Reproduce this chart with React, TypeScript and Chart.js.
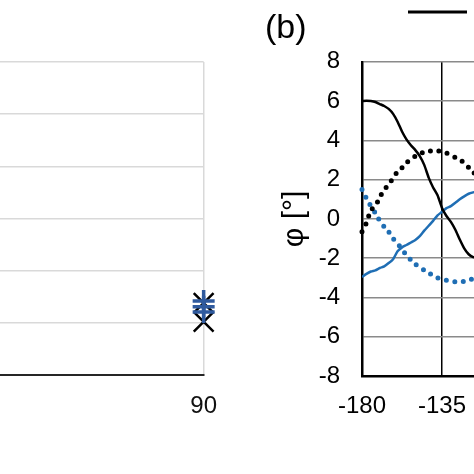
import { useEffect, useRef } from "react";
import { Chart, registerables } from "chart.js";

Chart.register(...registerables);

const FONT = "'Liberation Sans', Arial, sans-serif";

// Panel (a): readings at the 90° end of the sweep
const aAngle = 90;
const aCrossValues = [1.38, 1.02];
const aPlusValues = [1.42, 1.31, 1.21];

// Panel (b): φ against angle
const bAngles = [
  -180, -177.5, -175, -172.5, -170, -167.5, -165, -162.5, -160, -157.5,
  -155, -152.5, -150, -147.5, -145, -142.5, -140, -137.5, -135, -132.5,
  -130, -127.5, -125, -122.5, -120, -117.5, -115,
];
const bBlackSolid = [
  6.0, 6.02, 6.0, 5.95, 5.85, 5.75, 5.6, 5.35, 4.95, 4.45,
  4.05, 3.75, 3.5, 3.2, 2.75, 2.1, 1.6, 1.2, 0.56, 0.15,
  -0.15, -0.55, -1.05, -1.5, -1.8, -1.95, -2.0,
];
const bBlackDotted = [
  -0.65, -0.2, 0.45, 0.65, 1.1, 1.5, 1.72, 2.1, 2.4, 2.6,
  2.85, 3.05, 3.2, 3.32, 3.4, 3.45, 3.47, 3.47, 3.42, 3.36,
  3.25, 3.12, 3.02, 2.85, 2.62, 2.4, 2.15,
];
const bBlueSolid = [
  -2.96, -2.8, -2.68, -2.62, -2.5, -2.42, -2.25, -2.05, -1.65, -1.45,
  -1.33, -1.2, -1.07, -0.88, -0.6, -0.35, -0.1, 0.18, 0.36, 0.55,
  0.65, 0.82, 1.0, 1.15, 1.28, 1.35, 1.4,
];
const bBlueDotted = [
  1.5, 1.05, 0.65, 0.3, -0.1, -0.4, -0.65, -1.0, -1.25, -1.55,
  -1.85, -2.1, -2.3, -2.45, -2.62, -2.75, -2.88, -3.0, -3.07, -3.13,
  -3.17, -3.2, -3.21, -3.18, -3.12, -3.05, -2.95,
];

const BLACK = "#000000";
const BLUE = "#1f6eb4";
const MARKER_BLUE = "#2f5a9e";

const pts = (ys: number[]) => ys.map((y, i) => ({ x: bAngles[i], y }));

// Short legend sample for the first series, drawn in the top margin
const legendSample = {
  id: "legendSample",
  afterDraw(chart: any) {
    const ds = chart.data.datasets[0];
    const { ctx, chartArea } = chart;
    const x0 = chartArea.left + 46;
    ctx.save();
    ctx.strokeStyle = ds.borderColor;
    ctx.lineWidth = 3;
    ctx.beginPath();
    ctx.moveTo(x0, 12);
    ctx.lineTo(x0 + 59, 12);
    ctx.stroke();
    ctx.restore();
  },
};

function PanelA() {
  const ref = useRef<HTMLCanvasElement>(null);
  useEffect(() => {
    const chart = new Chart(ref.current!, {
      type: "line",
      data: {
        datasets: [
          {
            label: "plus",
            data: aPlusValues.map((y) => ({ x: aAngle, y })),
            showLine: false,
            pointStyle: "cross",
            pointRadius: 11,
            pointBorderWidth: 3.5,
            borderColor: MARKER_BLUE,
            backgroundColor: MARKER_BLUE,
            clip: false,
          },
          {
            label: "cross",
            data: aCrossValues.map((y) => ({ x: aAngle, y })),
            showLine: false,
            pointStyle: "crossRot",
            pointRadius: 14,
            pointBorderWidth: 2.5,
            borderColor: BLACK,
            backgroundColor: BLACK,
            clip: false,
          },
        ],
      },
      options: {
        responsive: false,
        animation: false,
        layout: { padding: { top: 62, right: 27 } },
        plugins: { legend: { display: false }, tooltip: { enabled: false } },
        scales: {
          x: {
            type: "linear",
            min: 0,
            max: 90,
            ticks: { stepSize: 45, color: "#111", padding: 17, font: { family: FONT, size: 24 } },
            grid: { color: "#d9d9d9", lineWidth: 1.5, drawTicks: false },
            border: { display: true, color: "#262626", width: 2 },
            afterFit: (s: any) => { s.height = 99; },
          },
          y: {
            min: 0,
            max: 6,
            ticks: { stepSize: 1, color: "#111", padding: 10, font: { family: FONT, size: 24 } },
            grid: { color: "#d9d9d9", lineWidth: 1.5, drawTicks: false },
            border: { display: false },
            afterFit: (s: any) => { s.width = 60; },
          },
        },
      },
    });
    return () => chart.destroy();
  }, []);
  return (
    <canvas
      ref={ref}
      width={560}
      height={474}
      style={{ position: "absolute", left: -326, top: 0 }}
    />
  );
}

function PanelB() {
  const ref = useRef<HTMLCanvasElement>(null);
  useEffect(() => {
    const dotted = {
      showLine: true,
      pointRadius: 0,
      borderWidth: 5,
      borderDash: [0, 8.5],
      borderCapStyle: "round" as const,
      tension: 0.2,
      clip: false,
    };
    const solid = { pointRadius: 0, borderWidth: 2.5, tension: 0.2 };
    const chart = new Chart(ref.current!, {
      type: "line",
      data: {
        datasets: [
          { label: "black solid", data: pts(bBlackSolid), borderColor: BLACK, ...solid },
          { label: "black dotted", data: pts(bBlackDotted), borderColor: BLACK, ...dotted },
          { label: "blue solid", data: pts(bBlueSolid), borderColor: BLUE, ...solid },
          { label: "blue dotted", data: pts(bBlueDotted), borderColor: BLUE, ...dotted },
        ],
      },
      options: {
        responsive: false,
        animation: false,
        layout: { padding: { right: 40 } },
        plugins: {
          legend: { display: false },
          tooltip: { enabled: false },
          title: {
            display: true,
            text: "(b)",
            align: "start",
            color: "#000",
            font: { family: FONT, size: 34, weight: "normal" },
            padding: { top: 8, bottom: 13 },
          },
        },
        scales: {
          x: {
            type: "linear",
            min: -180,
            max: 180,
            ticks: { stepSize: 45, color: "#000", padding: 16, font: { family: FONT, size: 24 } },
            grid: { color: "#000", lineWidth: 1.5, drawTicks: false },
            border: { display: true, color: "#000", width: 2.5 },
            afterFit: (s: any) => { s.height = 98; },
          },
          y: {
            min: -8,
            max: 8,
            ticks: { stepSize: 2, color: "#000", padding: 22, font: { family: FONT, size: 24 } },
            grid: { color: "#8a8a8a", lineWidth: 1.5, drawTicks: false },
            border: { display: true, color: "#000", width: 2.5 },
            title: {
              display: true,
              text: "φ [°]",
              color: "#000",
              font: { family: FONT, size: 30 },
              padding: { top: 12, bottom: 0 },
            },
            afterFit: (s: any) => { s.width = 97; },
          },
        },
      },
      plugins: [legendSample],
    });
    return () => chart.destroy();
  }, []);
  return (
    <canvas
      ref={ref}
      width={777}
      height={474}
      style={{ position: "absolute", left: 265, top: 0 }}
    />
  );
}

export default function App() {
  return (
    <div
      style={{
        position: "fixed",
        left: 0,
        top: 0,
        width: 474,
        height: 474,
        overflow: "hidden",
        background: "#fff",
      }}
    >
      <PanelA />
      <PanelB />
    </div>
  );
}
